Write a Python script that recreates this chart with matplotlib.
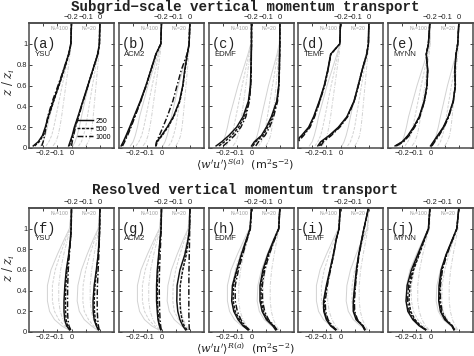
"""Subgrid-scale and resolved vertical momentum transport profiles, 5 PBL schemes."""

import matplotlib

matplotlib.use("Agg")
import matplotlib.pyplot as plt

# heights (z / z_i) shared by every profile
z = [0.02, 0.06, 0.12, 0.2, 0.3, 0.45, 0.6, 0.75, 0.9, 1.0, 1.2]

schemes = ["YSU", "ACM2", "EDMF", "TEMF", "MYNN"]
resolutions = ["250", "500", "1000"]

# LES benchmark (grey), same in every panel of a row: 3 curves per half
sgs_les_100 = [
    [-0.22, -0.2, -0.185, -0.17, -0.155, -0.125, -0.095, -0.06, -0.025, -0.005, 0.0],
    [-0.18, -0.16, -0.14, -0.125, -0.11, -0.088, -0.066, -0.042, -0.018, -0.004, 0.0],
    [-0.13, -0.11, -0.095, -0.082, -0.07, -0.055, -0.04, -0.025, -0.01, -0.002, 0.0],
]
sgs_les_20 = [
    [-0.19, -0.175, -0.16, -0.145, -0.13, -0.105, -0.08, -0.05, -0.02, -0.004, 0.0],
    [-0.15, -0.13, -0.115, -0.1, -0.088, -0.07, -0.052, -0.033, -0.014, -0.003, 0.0],
    [-0.1, -0.08, -0.065, -0.055, -0.047, -0.037, -0.027, -0.017, -0.007, -0.002, 0.0],
]
res_les_100 = [
    [-0.02, -0.07, -0.12, -0.155, -0.17, -0.17, -0.145, -0.1, -0.05, -0.015, 0.0],
    [-0.015, -0.05, -0.09, -0.12, -0.135, -0.135, -0.115, -0.08, -0.04, -0.012, 0.0],
    [-0.01, -0.035, -0.06, -0.08, -0.09, -0.09, -0.077, -0.055, -0.028, -0.008, 0.0],
]
res_les_20 = [
    [-0.02, -0.06, -0.11, -0.145, -0.16, -0.155, -0.13, -0.09, -0.045, -0.012, 0.0],
    [-0.015, -0.045, -0.08, -0.11, -0.12, -0.118, -0.1, -0.07, -0.035, -0.01, 0.0],
    [-0.008, -0.025, -0.045, -0.06, -0.068, -0.068, -0.058, -0.04, -0.02, -0.006, 0.0],
]

# PBL scheme runs (black): rows are 250, 500, 1000 m
sgs_ysu_100 = [
    [-0.27, -0.235, -0.205, -0.185, -0.165, -0.128, -0.09, -0.055, -0.02, -0.005, 0.0],
    [-0.26, -0.228, -0.2, -0.182, -0.162, -0.126, -0.088, -0.052, -0.018, -0.004, 0.0],
    [-0.21, -0.2, -0.19, -0.18, -0.168, -0.135, -0.095, -0.056, -0.02, -0.005, 0.0],
]
sgs_ysu_20 = [
    [-0.22, -0.21, -0.195, -0.18, -0.155, -0.12, -0.085, -0.05, -0.015, -0.003, 0.0],
    [-0.215, -0.205, -0.19, -0.176, -0.152, -0.118, -0.083, -0.048, -0.014, -0.003, 0.0],
    [-0.2, -0.195, -0.185, -0.172, -0.15, -0.118, -0.084, -0.05, -0.015, -0.003, 0.0],
]
sgs_acm2_100 = [
    [-0.285, -0.27, -0.25, -0.225, -0.195, -0.15, -0.11, -0.075, -0.04, -0.005, 0.0],
    [-0.28, -0.265, -0.245, -0.22, -0.19, -0.147, -0.108, -0.073, -0.038, -0.005, 0.0],
    [-0.275, -0.26, -0.24, -0.215, -0.188, -0.146, -0.108, -0.074, -0.04, -0.005, 0.0],
]
sgs_acm2_20 = [
    [-0.24, -0.234, -0.2, -0.16, -0.117, -0.073, -0.05, -0.036, -0.018, -0.005, 0.0],
    [-0.238, -0.23, -0.195, -0.155, -0.113, -0.07, -0.048, -0.034, -0.017, -0.005, 0.0],
    [-0.24, -0.235, -0.215, -0.19, -0.16, -0.12, -0.09, -0.06, -0.02, -0.005, 0.0],
]
sgs_edmf_100 = [
    [-0.25, -0.21, -0.16, -0.105, -0.06, -0.022, -0.008, -0.004, -0.002, 0.0, 0.0],
    [-0.23, -0.19, -0.14, -0.09, -0.05, -0.018, -0.006, -0.003, -0.001, 0.0, 0.0],
    [-0.2, -0.165, -0.12, -0.075, -0.04, -0.015, -0.005, -0.002, -0.001, 0.0, 0.0],
]
sgs_edmf_20 = [
    [-0.2, -0.18, -0.13, -0.095, -0.06, -0.022, -0.008, -0.004, -0.002, 0.0, 0.0],
    [-0.19, -0.17, -0.12, -0.085, -0.052, -0.019, -0.007, -0.003, -0.001, 0.0, 0.0],
    [-0.17, -0.15, -0.105, -0.072, -0.044, -0.016, -0.006, -0.003, -0.001, 0.0, 0.0],
]
sgs_temf_100 = [
    [-0.36, -0.32, -0.275, -0.225, -0.19, -0.15, -0.115, -0.09, -0.07, -0.005, 0.0],
    [-0.35, -0.31, -0.268, -0.22, -0.186, -0.147, -0.113, -0.088, -0.068, -0.005, 0.0],
    [-0.34, -0.3, -0.26, -0.215, -0.183, -0.145, -0.112, -0.088, -0.068, -0.005, 0.0],
]
sgs_temf_20 = [
    [-0.36, -0.34, -0.28, -0.215, -0.155, -0.105, -0.075, -0.047, -0.015, -0.003, 0.0],
    [-0.35, -0.33, -0.272, -0.21, -0.152, -0.103, -0.074, -0.046, -0.015, -0.003, 0.0],
    [-0.34, -0.32, -0.265, -0.205, -0.15, -0.102, -0.074, -0.047, -0.015, -0.003, 0.0],
]
sgs_mynn_100 = [
    [-0.25, -0.2, -0.16, -0.12, -0.08, -0.045, -0.025, -0.02, -0.03, -0.015, -0.005],
    [-0.245, -0.195, -0.155, -0.116, -0.077, -0.043, -0.024, -0.02, -0.03, -0.015, -0.005],
    [-0.24, -0.19, -0.15, -0.112, -0.075, -0.042, -0.024, -0.02, -0.029, -0.015, -0.005],
]
sgs_mynn_20 = [
    [-0.2, -0.18, -0.15, -0.11, -0.075, -0.04, -0.025, -0.028, -0.02, -0.008, 0.0],
    [-0.195, -0.175, -0.145, -0.107, -0.073, -0.039, -0.025, -0.028, -0.02, -0.008, 0.0],
    [-0.19, -0.17, -0.14, -0.104, -0.071, -0.038, -0.024, -0.027, -0.02, -0.008, 0.0],
]

res_ysu_100 = [
    [-0.013, -0.035, -0.048, -0.053, -0.053, -0.047, -0.037, -0.02, -0.008, -0.003, 0.0],
    [-0.01, -0.028, -0.038, -0.042, -0.043, -0.04, -0.032, -0.018, -0.007, -0.002, 0.0],
    [-0.005, -0.018, -0.025, -0.028, -0.028, -0.027, -0.023, -0.015, -0.006, -0.002, 0.0],
]
res_ysu_20 = [
    [-0.01, -0.025, -0.04, -0.047, -0.048, -0.04, -0.025, -0.012, -0.005, -0.002, 0.0],
    [-0.008, -0.02, -0.032, -0.038, -0.04, -0.034, -0.022, -0.011, -0.004, -0.002, 0.0],
    [-0.004, -0.01, -0.015, -0.018, -0.019, -0.017, -0.012, -0.007, -0.003, -0.001, 0.0],
]
res_acm2_100 = [
    [-0.005, -0.015, -0.025, -0.03, -0.035, -0.035, -0.03, -0.02, -0.01, -0.003, 0.0],
    [-0.004, -0.012, -0.02, -0.025, -0.029, -0.03, -0.026, -0.018, -0.009, -0.003, 0.0],
    [-0.002, -0.006, -0.01, -0.013, -0.015, -0.016, -0.014, -0.01, -0.005, -0.002, 0.0],
]
res_acm2_20 = [
    [-0.03, -0.05, -0.07, -0.085, -0.092, -0.09, -0.07, -0.035, -0.012, -0.003, 0.0],
    [-0.02, -0.04, -0.055, -0.065, -0.07, -0.068, -0.05, -0.025, -0.01, -0.002, 0.0],
    [-0.003, -0.005, -0.006, -0.007, -0.007, -0.007, -0.006, -0.004, -0.002, -0.001, 0.0],
]
res_edmf_100 = [
    [-0.025, -0.06, -0.095, -0.125, -0.14, -0.135, -0.105, -0.072, -0.035, -0.01, 0.0],
    [-0.02, -0.052, -0.085, -0.115, -0.13, -0.127, -0.1, -0.068, -0.033, -0.009, 0.0],
    [-0.015, -0.045, -0.075, -0.1, -0.115, -0.115, -0.092, -0.062, -0.03, -0.008, 0.0],
]
res_edmf_20 = [
    [-0.03, -0.05, -0.095, -0.125, -0.14, -0.14, -0.12, -0.085, -0.04, -0.008, 0.0],
    [-0.025, -0.045, -0.088, -0.117, -0.132, -0.133, -0.114, -0.08, -0.038, -0.008, 0.0],
    [-0.02, -0.04, -0.08, -0.107, -0.122, -0.124, -0.107, -0.075, -0.035, -0.007, 0.0],
]
res_temf_100 = [
    [-0.035, -0.07, -0.1, -0.118, -0.12, -0.1, -0.075, -0.05, -0.03, -0.01, -0.003],
    [-0.032, -0.066, -0.095, -0.112, -0.115, -0.097, -0.073, -0.049, -0.03, -0.01, -0.003],
    [-0.028, -0.06, -0.088, -0.105, -0.108, -0.093, -0.071, -0.048, -0.029, -0.01, -0.003],
]
res_temf_20 = [
    [-0.03, -0.045, -0.09, -0.11, -0.11, -0.1, -0.088, -0.072, -0.05, -0.035, -0.003],
    [-0.028, -0.042, -0.085, -0.105, -0.106, -0.097, -0.086, -0.07, -0.049, -0.034, -0.003],
    [-0.025, -0.04, -0.08, -0.1, -0.102, -0.094, -0.084, -0.069, -0.048, -0.033, -0.003],
]
res_mynn_100 = [
    [-0.035, -0.08, -0.125, -0.16, -0.173, -0.165, -0.135, -0.09, -0.045, -0.015, -0.005],
    [-0.03, -0.07, -0.11, -0.14, -0.152, -0.145, -0.12, -0.08, -0.04, -0.013, -0.004],
    [-0.032, -0.074, -0.117, -0.15, -0.162, -0.155, -0.128, -0.085, -0.042, -0.014, -0.004],
]
res_mynn_20 = [
    [-0.035, -0.05, -0.1, -0.13, -0.142, -0.14, -0.125, -0.09, -0.045, -0.015, 0.0],
    [-0.032, -0.047, -0.095, -0.124, -0.136, -0.135, -0.12, -0.087, -0.043, -0.014, 0.0],
    [-0.03, -0.045, -0.09, -0.118, -0.13, -0.13, -0.116, -0.084, -0.042, -0.014, 0.0],
]

sgs_runs = [(sgs_ysu_100, sgs_ysu_20), (sgs_acm2_100, sgs_acm2_20),
            (sgs_edmf_100, sgs_edmf_20), (sgs_temf_100, sgs_temf_20),
            (sgs_mynn_100, sgs_mynn_20)]
res_runs = [(res_ysu_100, res_ysu_20), (res_acm2_100, res_acm2_20),
            (res_edmf_100, res_edmf_20), (res_temf_100, res_temf_20),
            (res_mynn_100, res_mynn_20)]

OFFSET = 0.2  # N_x=20 profile is shifted right by this much
BLACK_STYLES = ["-", (0, (2.0, 1.0)), (0, (4.0, 1.5, 1.0, 1.5))]
GREY_STYLES = ["-", (0, (3.0, 1.5)), (0, (4.0, 1.5, 1.0, 1.5))]
GREY = "#d2d2d2"
INK = "#222222"
TICK_FONT = "Liberation Sans"
MONO = "Liberation Mono"

W, H = 474.0, 356.0
LEFTS = [29, 119, 209, 298, 388]
PANEL_W = 85


def draw_panel(ax, runs, les, letter, scheme, first):
    run100, run20 = runs
    les100, les20 = les
    for curve, ls in zip(les100, GREY_STYLES):
        ax.plot(curve, z, color=GREY, ls=ls, lw=0.7)
    for curve, ls in zip(les20, GREY_STYLES):
        ax.plot([v + OFFSET for v in curve], z, color=GREY, ls=ls, lw=0.7)
    handles = []
    for curve, ls, lab in zip(run100, BLACK_STYLES, resolutions):
        h, = ax.plot(curve, z, color="#111111", ls=ls, lw=1.05, label=lab)
        handles.append(h)
    for curve, ls in zip(run20, BLACK_STYLES):
        ax.plot([v + OFFSET for v in curve], z, color="#111111", ls=ls, lw=1.05)

    ax.set_xlim(-0.3, 0.3)
    ax.set_ylim(0, 1.2)
    ax.set_xticks([-0.2, -0.1, 0, 0.1, 0.2])
    ax.set_xticklabels(["\u22120.2", "\u22120.1", "0", "", ""])
    ax.set_yticks([0, 0.2, 0.4, 0.6, 0.8, 1.0])
    ax.set_yticklabels(["0", "0.2", "0.4", "0.6", "0.8", "1"] if first else [])
    ax.tick_params(direction="in", length=2.2, width=0.6, pad=1.2,
                   labelsize=5.4, right=True, colors=INK)
    for lab in ax.get_xticklabels() + ax.get_yticklabels():
        lab.set_family(TICK_FONT)
    top = ax.secondary_xaxis("top")
    top.set_xticks([-0.2, -0.1, 0, 0.1, 0.2])
    top.set_xticklabels(["", "", "\u22120.2", "\u22120.1", "0"])
    top.tick_params(direction="in", length=2.2, width=0.6, pad=1.2,
                    labelsize=5.4, colors=INK)
    for lab in top.get_xticklabels():
        lab.set_family(TICK_FONT)
    for sp in list(ax.spines.values()) + [top.spines["top"]]:
        sp.set_color("#4a4a4a")
        sp.set_linewidth(1.1)

    ax.text(-0.02, 1.145, "N$_x$=100", color="#9a9a9a", fontsize=3.6,
            ha="right", va="center", family=TICK_FONT)
    ax.text(0.18, 1.145, "N$_x$=20", color="#9a9a9a", fontsize=3.6,
            ha="right", va="center", family=TICK_FONT)
    ax.text(-0.278, 1.0, f"({letter})", fontsize=9.8, family=MONO,
            ha="left", va="center", color=INK)
    ax.text(-0.262, 0.9, scheme, fontsize=5.6, family=TICK_FONT,
            ha="left", va="center", color=INK)
    return handles


fig = plt.figure(figsize=(W / 100, H / 100), dpi=100)
plt.rcParams["mathtext.fontset"] = "dejavuserif"

rows = [(sgs_runs, (sgs_les_100, sgs_les_20), 23, 148, "abcde"),
        (res_runs, (res_les_100, res_les_20), 208, 332, "fghij")]
for runs, les, top_px, bot_px, letters in rows:
    for i, (left, scheme) in enumerate(zip(LEFTS, schemes)):
        ax = fig.add_axes([left / W, 1 - bot_px / H, PANEL_W / W,
                           (bot_px - top_px) / H])
        handles = draw_panel(ax, runs[i], les, letters[i], scheme, i == 0)
        if letters[i] == "a":
            ax.legend(handles=handles, loc="lower right",
                      bbox_to_anchor=(1.02, 0.02), frameon=False,
                      handlelength=2.3, handletextpad=0.3,
                      labelspacing=0.15, borderpad=0.2,
                      prop={"family": TICK_FONT, "size": 5.0})

fig.text(0.517, 0.968, "Subgrid\u2212scale vertical momentum transport",
         family=MONO, weight="bold", fontsize=10.2, ha="center",
         va="baseline", color=INK)
fig.text(0.517, 0.455, "Resolved vertical momentum transport",
         family=MONO, weight="bold", fontsize=10.2, ha="center",
         va="baseline", color=INK)
fig.text(0.517, 1 - 165 / H, r"$\langle w'u'\rangle^{S(a)}$  (m$^2$s$^{-2}$)",
         fontsize=8, ha="center", va="center", color=INK)
fig.text(0.517, 1 - 349 / H, r"$\langle w'u'\rangle^{R(a)}$  (m$^2$s$^{-2}$)",
         fontsize=8, ha="center", va="center", color=INK)
fig.text(0.018, 1 - 82 / H, r"$z\ /\ z_i$", fontsize=8.5, rotation=90,
         ha="center", va="center", color=INK)
fig.text(0.018, 1 - 268 / H, r"$z\ /\ z_i$", fontsize=8.5, rotation=90,
         ha="center", va="center", color=INK)

fig.savefig("out.png", dpi=100)
